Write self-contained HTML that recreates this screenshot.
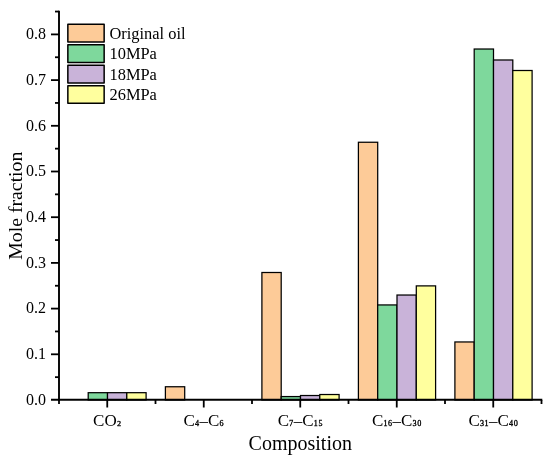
<!DOCTYPE html><html><head><meta charset="utf-8"><title>Composition</title>
<style>html,body{margin:0;padding:0;background:#fff}svg{display:block}text{font-family:"Liberation Serif","Times New Roman",serif;fill:#000}</style></head><body>
<svg width="550" height="462" viewBox="0 0 550 462">
<rect width="550" height="462" fill="#fff"/>
<g stroke="#000" stroke-width="1.25">
<rect x="88.20" y="392.69" width="19.30" height="7.31" fill="#7ED89C"/>
<rect x="107.50" y="392.69" width="19.30" height="7.31" fill="#C9B3D9"/>
<rect x="126.80" y="392.69" width="19.30" height="7.31" fill="#FFFF9E"/>
<rect x="165.40" y="386.75" width="19.30" height="13.25" fill="#FDCB98"/>
<rect x="261.90" y="272.50" width="19.30" height="127.50" fill="#FDCB98"/>
<rect x="281.20" y="396.57" width="19.30" height="3.43" fill="#7ED89C"/>
<rect x="300.50" y="395.52" width="19.30" height="4.48" fill="#C9B3D9"/>
<rect x="319.80" y="394.52" width="19.30" height="5.48" fill="#FFFF9E"/>
<rect x="358.40" y="142.25" width="19.30" height="257.75" fill="#FDCB98"/>
<rect x="377.70" y="304.94" width="19.30" height="95.06" fill="#7ED89C"/>
<rect x="397.00" y="295.03" width="19.30" height="104.97" fill="#C9B3D9"/>
<rect x="416.30" y="285.89" width="19.30" height="114.11" fill="#FFFF9E"/>
<rect x="454.90" y="341.96" width="19.30" height="58.04" fill="#FDCB98"/>
<rect x="474.20" y="49.02" width="19.30" height="350.98" fill="#7ED89C"/>
<rect x="493.50" y="59.99" width="19.30" height="340.01" fill="#C9B3D9"/>
<rect x="512.80" y="70.50" width="19.30" height="329.50" fill="#FFFF9E"/>
</g>
<g stroke="#000" stroke-width="1.9" fill="none">
<path d="M59.0 10.75000000000001V400.7"/>
<path d="M51.0 399.7H542.3"/>
</g>
<g stroke="#000" stroke-width="1.8" fill="none">
<path d="M55.0 377.15H59.0"/>
<path d="M51.0 354.30H59.0"/>
<path d="M55.0 331.45H59.0"/>
<path d="M51.0 308.60H59.0"/>
<path d="M55.0 285.75H59.0"/>
<path d="M51.0 262.90H59.0"/>
<path d="M55.0 240.05H59.0"/>
<path d="M51.0 217.20H59.0"/>
<path d="M55.0 194.35H59.0"/>
<path d="M51.0 171.50H59.0"/>
<path d="M55.0 148.65H59.0"/>
<path d="M51.0 125.80H59.0"/>
<path d="M55.0 102.95H59.0"/>
<path d="M51.0 80.10H59.0"/>
<path d="M55.0 57.25H59.0"/>
<path d="M51.0 34.40H59.0"/>
<path d="M55.0 11.55H59.0"/>
<path d="M59.00 400.0V404.0"/>
<path d="M107.25 400.0V407.5"/>
<path d="M155.50 400.0V404.0"/>
<path d="M203.75 400.0V407.5"/>
<path d="M252.00 400.0V404.0"/>
<path d="M300.25 400.0V407.5"/>
<path d="M348.50 400.0V404.0"/>
<path d="M396.75 400.0V407.5"/>
<path d="M445.00 400.0V404.0"/>
<path d="M493.25 400.0V407.5"/>
<path d="M541.50 400.0V404.0"/>
</g>
<g font-size="16" text-anchor="end">
<text x="45.9" y="404.80">0.0</text>
<text x="45.9" y="359.10">0.1</text>
<text x="45.9" y="313.40">0.2</text>
<text x="45.9" y="267.70">0.3</text>
<text x="45.9" y="222.00">0.4</text>
<text x="45.9" y="176.30">0.5</text>
<text x="45.9" y="130.60">0.6</text>
<text x="45.9" y="84.90">0.7</text>
<text x="45.9" y="39.20">0.8</text>
</g>
<g font-size="17" text-anchor="middle">
<text x="107.25" y="425.6"><tspan dy="0.0">CO</tspan><tspan font-size="13.3" stroke="#000" stroke-width="0.35" dy="-2.7">₂</tspan></text>
<text x="203.75" y="425.6"><tspan dy="0.0">C</tspan><tspan font-size="13.3" stroke="#000" stroke-width="0.35" dy="-2.7">₄</tspan><tspan dy="2.7">–C</tspan><tspan font-size="13.3" stroke="#000" stroke-width="0.35" dy="-2.7">₆</tspan></text>
<text x="300.25" y="425.6"><tspan dy="0.0">C</tspan><tspan font-size="13.3" stroke="#000" stroke-width="0.35" dy="-2.7">₇</tspan><tspan dy="2.7">–C</tspan><tspan font-size="13.3" stroke="#000" stroke-width="0.35" dy="-2.7">₁₅</tspan></text>
<text x="396.75" y="425.6"><tspan dy="0.0">C</tspan><tspan font-size="13.3" stroke="#000" stroke-width="0.35" dy="-2.7">₁₆</tspan><tspan dy="2.7">–C</tspan><tspan font-size="13.3" stroke="#000" stroke-width="0.35" dy="-2.7">₃₀</tspan></text>
<text x="493.25" y="425.6"><tspan dy="0.0">C</tspan><tspan font-size="13.3" stroke="#000" stroke-width="0.35" dy="-2.7">₃₁</tspan><tspan dy="2.7">–C</tspan><tspan font-size="13.3" stroke="#000" stroke-width="0.35" dy="-2.7">₄₀</tspan></text>
</g>
<text x="300.3" y="450.2" font-size="20" text-anchor="middle">Composition</text>
<text transform="translate(21.7 205.7) rotate(-90)" font-size="19.8" text-anchor="middle">Mole fraction</text>
<rect x="67.85" y="24.30" width="36.3" height="17.7" fill="#FDCB98" stroke="#000" stroke-width="1.5" stroke-linejoin="round"/>
<text x="109.5" y="38.50" font-size="16.4">Original oil</text>
<rect x="67.85" y="44.75" width="36.3" height="17.7" fill="#7ED89C" stroke="#000" stroke-width="1.5" stroke-linejoin="round"/>
<text x="109.5" y="59.00" font-size="16.4">10MPa</text>
<rect x="67.85" y="65.20" width="36.3" height="17.7" fill="#C9B3D9" stroke="#000" stroke-width="1.5" stroke-linejoin="round"/>
<text x="109.5" y="79.50" font-size="16.4">18MPa</text>
<rect x="67.85" y="85.65" width="36.3" height="17.7" fill="#FFFF9E" stroke="#000" stroke-width="1.5" stroke-linejoin="round"/>
<text x="109.5" y="100.00" font-size="16.4">26MPa</text>
</svg></body></html>
